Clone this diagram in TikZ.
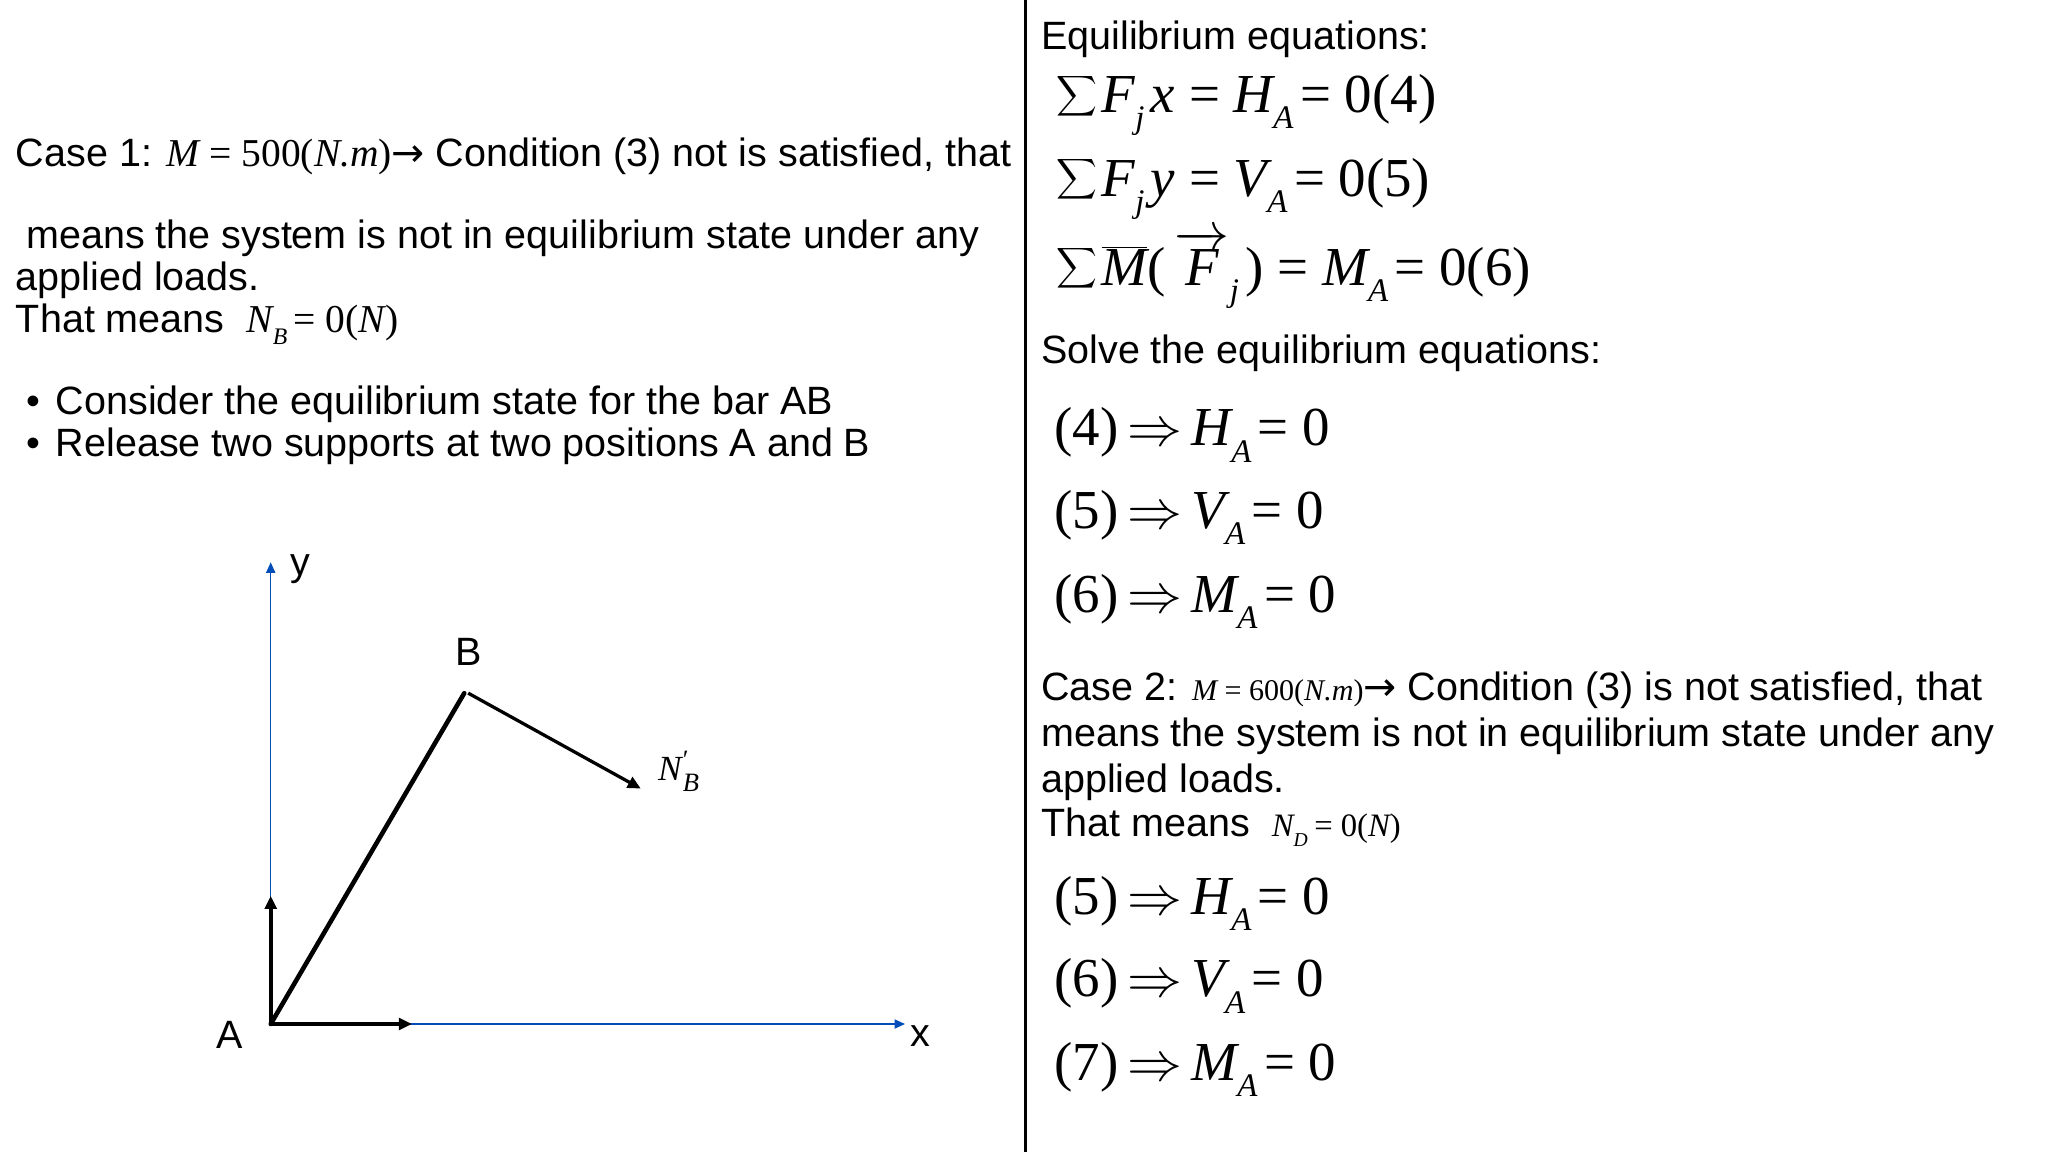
\RequirePackage{fix-cm}
\documentclass[tikz,border=0pt]{standalone}
\usepackage{fontspec}
\usetikzlibrary{arrows.meta}
\setmainfont{Liberation Sans}
\newfontfamily\tms{Liberation Serif}
\newfontfamily\djv{DejaVu Sans}
\newcommand\mi[1]{{\tms\itshape #1}}
\newcommand\rmn[1]{{\tms #1}}
\newcommand\sub[1]{\raisebox{-0.3em}{\scalebox{0.6}{\mi{#1}}}\kern5pt}
\newcommand\bigsum{\raisebox{-10pt}{\resizebox{!}{40pt}{$\displaystyle\sum$}}\kern3pt}
\begin{document}
\begin{tikzpicture}[x=1pt,y=-1pt,
  txt/.style={anchor=base west,inner sep=0,font=\fontsize{30.2}{33}\selectfont},
  eq/.style={anchor=base west,inner sep=0,font=\fontsize{42}{46}\selectfont\tms},
  axis/.style={draw=blue!60!black!70!cyan,line width=1pt,-{Triangle[width=7pt,length=8pt]}},
  force/.style={draw=black,line width=3pt,-{Triangle[width=9pt,length=10pt]}}]
\useasboundingbox (0,0) rectangle (1566,881);
\draw[line width=2pt] (784,0) -- (784,881);
% left
\node[txt] (c1) at (12,127) {Case 1: \rmn{\mi{M} = 500(\mi{N.m})}{\djv→} Condition (3) not is satisfied, that};
\node[txt] (l2) at (20,190) {means the system is not in equilibrium state under any};
\node[txt] (l3) at (12,222) {applied loads.};
\node[txt] (l4) at (12,254) {That means \ \rmn{\mi{N}\sub{B}= 0(\mi{N})}};
\node[txt] (b1) at (20,317) {•\hspace{12pt}Consider the equilibrium state for the bar AB};
\node[txt] (b2) at (20,349) {•\hspace{12pt}Release two supports at two positions A and B};
\coordinate (A) at (207,783);
\coordinate (B) at (355,530);
\coordinate (yt) at (207,430);
\coordinate (xt) at (692,783);
\draw[axis] (A) -- (yt);
\draw[axis] (A) -- (xt);
\node[txt] (ly) at (222,440) {y};
\node[txt] (lx) at (696,800) {x};
\node[txt] (lA) at (165,802) {A};
\node[txt] (lB) at (348,509) {B};
\draw[line width=3.5pt,line cap=round] (A) -- (B);
\coordinate (B2) at (358,530);
\coordinate (N) at (490,603);
\draw[line width=2.5pt,-{Triangle[width=9pt,length=10pt]}] (B2) -- (N);
\node[anchor=base west,inner sep=0,font=\fontsize{27}{30}\selectfont] (lN) at (503,597) {\mi{N}\kern1pt\makebox[0pt][l]{\raisebox{0.35em}{\scalebox{0.75}{\rmn{′}}}}\raisebox{-0.3em}{\scalebox{0.75}{\mi{B}}}};
\coordinate (Ay) at (207,685);
\coordinate (Ax) at (315,783);
\draw[force] (A) -- (Ay);
\draw[force] (A) -- (Ax);
% right
\node[txt] (e0) at (796,38) {Equilibrium equations:};
\node[eq] (e1) at (808,86) {\bigsum\mi{F}\sub{j}\mi{x} = \mi{H}\sub{A}= 0(4)};
\node[eq] (e2) at (808,150) {\bigsum\mi{F}\sub{j}\mi{y} = \mi{V}\sub{A}= 0(5)};
\node[eq] (e3) at (808,218) {\bigsum$\overline{\hbox{\mi{M}}}$(\,$\overrightarrow{\hbox{\mi{F}}}$\sub{j}) = \mi{M}\sub{A}= 0(6)};
\node[txt] (s0) at (796,278) {Solve the equilibrium equations:};
\node[eq] (r1) at (806,341) {(4)\,$\Rightarrow$\,\mi{H}\sub{A} = 0};
\node[eq] (r2) at (806,404) {(5)\,$\Rightarrow$\,\mi{V}\sub{A} = 0};
\node[eq] (r3) at (806,468) {(6)\,$\Rightarrow$\,\mi{M}\sub{A} = 0};
\node[txt] (c2) at (796,536) {Case 2: {\fontsize{23}{24}\selectfont\rmn{\mi{M} = 600(\mi{N.m})}}{\djv→} Condition (3) is not satisfied, that};
\node[txt] (m2) at (796,571) {means the system is not in equilibrium state under any};
\node[txt] (m3) at (796,606) {applied loads.};
\node[txt] (m4) at (796,640) {That means \ {\fontsize{25}{26}\selectfont\rmn{\mi{N}\sub{D}= 0(\mi{N})}}};
\node[eq] (q1) at (806,699) {(5)\,$\Rightarrow$\,\mi{H}\sub{A} = 0};
\node[eq] (q2) at (806,762) {(6)\,$\Rightarrow$\,\mi{V}\sub{A} = 0};
\node[eq] (q3) at (806,826) {(7)\,$\Rightarrow$\,\mi{M}\sub{A} = 0};
\end{tikzpicture}
\end{document}
